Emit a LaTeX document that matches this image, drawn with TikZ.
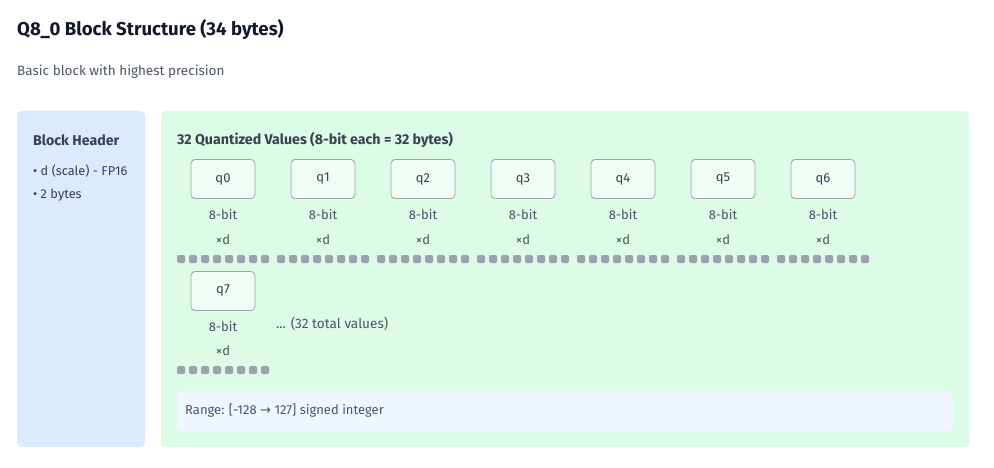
\documentclass[tikz,border=0pt]{standalone}
\usepackage{fontspec}
\setmainfont{Fira Sans}
\newfontfamily\symfont{DejaVu Sans}
\definecolor{hdrfill}{HTML}{DBEAFE}
\definecolor{valfill}{HTML}{DCFCE7}
\definecolor{qfill}{HTML}{F0FDF4}
\definecolor{qborder}{HTML}{9CA3AF}
\definecolor{dotc}{HTML}{9CA3AF}
\definecolor{rangefill}{HTML}{EFF6FF}
\definecolor{textdark}{HTML}{111827}
\definecolor{textmid}{HTML}{374151}
\definecolor{textsoft}{HTML}{4B5563}

\begin{document}
\begin{tikzpicture}[x=1pt, y=-1pt,
	title/.style={font=\fontsize{18.6}{22}\selectfont\bfseries, text=textdark, inner sep=0pt},
	sub/.style={font=\fontsize{13.5}{16}\selectfont, text=textsoft, inner sep=0pt},
	head/.style={font=\fontsize{14.2}{17}\selectfont\bfseries, text=textmid, inner sep=0pt},
	item/.style={font=\fontsize{12.8}{15}\selectfont, text=textmid, inner sep=0pt},
	qbox/.style={draw=qborder, fill=qfill, rounded corners=4pt, line width=0.8pt,
		minimum width=64pt, minimum height=39pt, inner sep=0pt,
		font=\fontsize{13}{15}\selectfont, text=textmid},
	lbl/.style={font=\fontsize{13}{15}\selectfont, text=textsoft, inner sep=0pt},
	dot/.style={fill=dotc, rounded corners=1.5pt}
]
\useasboundingbox (0,0) rectangle (994,468);

% TITLE
\node[title, anchor=base west] (title) at (17,36) {Q8\_0 Block Structure (34 bytes)};
\node[sub, anchor=west] (sub) at (17,72) {Basic block with highest precision};

% PANELS
\fill[hdrfill, rounded corners=4pt] (17,111) rectangle (145,447);
\fill[valfill, rounded corners=4pt] (161,111) rectangle (969,447);

% HEADER
\node[head, anchor=west] (hdr) at (33,140) {Block Header};
\node[item, anchor=west] (scale) at (33,171) {• d (scale) - FP16};
\node[item, anchor=west] (size) at (33,195) {• 2 bytes};

% VALUES
\node[head, anchor=west] (vals) at (177,140) {32 Quantized Values (8-bit each = 32 bytes)};

\foreach \i in{0,...,6}{
	\node[qbox] (q\i) at (223+100*\i, 179) {q\i};
	\node[lbl] (b\i) at (223+100*\i, 215) {8-bit};
	\node[lbl] (m\i) at (223+100*\i, 240) {×d};
	\foreach \k in{0,...,7}{
		\fill[dot] (177+100*\i+12*\k, 255) rectangle ++(8,8);
	}
}

\node[qbox] (q7) at (223, 291) {q7};
\node[lbl] (b7) at (223, 327) {8-bit};
\node[lbl] (m7) at (223, 351) {×d};
\foreach \k in{0,...,7}{
	\fill[dot] (177+12*\k, 366) rectangle ++(8,8);
}
\node[lbl, font=\fontsize{13.6}{16}\selectfont, anchor=west] (more) at (276,324) {... (32 total values)};

% RANGE
\fill[rangefill, rounded corners=4pt] (177,391) rectangle (953,431);
\node[lbl, anchor=west] (range) at (185,411) {Range: [-128 {\symfont →} 127] signed integer};

\end{tikzpicture}
\end{document}
